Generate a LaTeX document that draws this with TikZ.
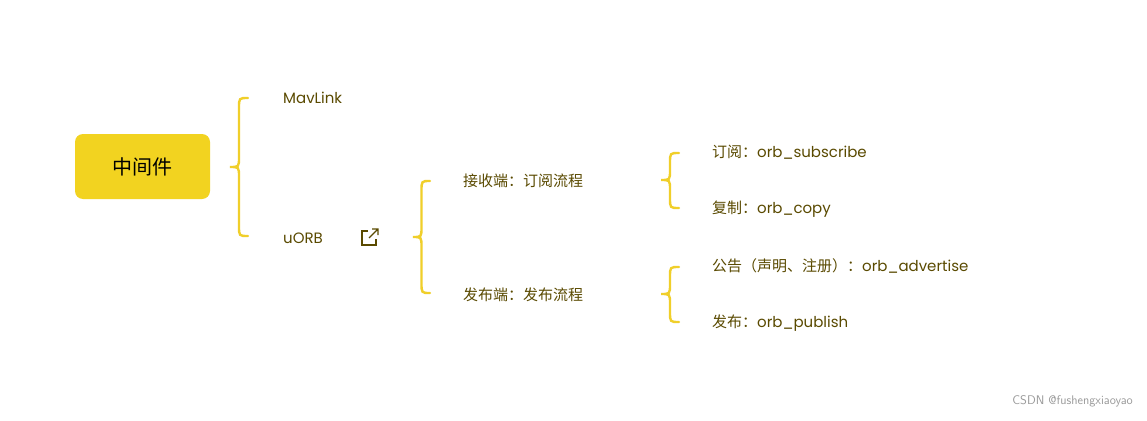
\documentclass[tikz,border=0pt]{standalone}
\usepackage{fontspec}
\setmainfont{Poppins}
\newfontfamily\cjk{Noto Sans CJK SC}
\definecolor{ytxt}{HTML}{5A4A00}
\definecolor{ybr}{HTML}{F0CF2A}
\definecolor{yroot}{HTML}{F2D320}
\newcommand{\bracepath}[5]{% xl xr yt ym yb
 \pgfmathsetmacro\xm{(#1+#2)/2}
 \draw[brc] (#2,#3) .. controls (\xm,#3) .. (\xm,#3+10) -- (\xm,#4-10) .. controls (\xm,#4) .. (#1,#4) .. controls (\xm,#4) .. (\xm,#4+10) -- (\xm,#5-10) .. controls (\xm,#5) .. (#2,#5);}
\begin{document}
\begin{tikzpicture}[x=1pt,y=-1pt,
 brc/.style={draw=ybr,line width=2.4pt,line cap=round},
 lbl/.style={anchor=west,inner sep=0pt,text=ytxt,font=\fontsize{15}{18}\selectfont}]
\useasboundingbox[fill=white] (0,0) rectangle (1147,420);
\node[fill=yroot,rounded corners=8pt,minimum width=135pt,minimum height=65pt,font=\cjk\fontsize{20}{24}\selectfont,text=black] (root) at (142.5,166.5) {中间件};
\bracepath{230}{248}{98}{167}{236}
\node[lbl] (mav) at (283,98) {MavLink};
\node[lbl] (uorb) at (283,238) {uORB};
\draw[ytxt,line width=1.3pt] (368,231) -- (362,231) -- (362,245) -- (376,245) -- (376,239);
\draw[ytxt,line width=1.3pt] (369,238) -- (378,229) (372,229) -- (378,229) -- (378,235);
\bracepath{413}{430}{181}{237}{293}
\node[lbl] (recv) at (463,181) {\cjk 接收端：订阅流程};
\node[lbl] (pub) at (463,295) {\cjk 发布端：发布流程};
\bracepath{661}{679}{153}{180}{208}
\bracepath{661}{679}{267}{294}{322}
\node[lbl] (l1) at (712,152) {{\cjk 订阅：}orb\_subscribe};
\node[lbl] (l2) at (712,209) {{\cjk 复制：}orb\_copy};
\node[lbl] (l3) at (712,266) {{\cjk 公告（声明、注册）：}orb\_advertise};
\node[lbl] (l4) at (712,323) {{\cjk 发布：}orb\_publish};
\node[anchor=east,inner sep=0pt,text=gray!80,font=\fontsize{12.5}{15}\selectfont\sffamily] (wm) at (1133,401) {CSDN @fushengxiaoyao};
\end{tikzpicture}
\end{document}
